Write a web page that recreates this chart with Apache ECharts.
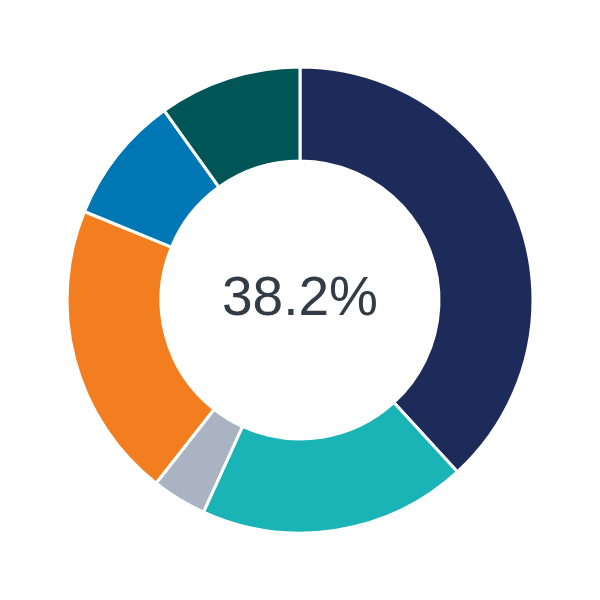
<!DOCTYPE html>
<html>
<head>
<meta charset="utf-8">
<script src="https://cdn.jsdelivr.net/npm/echarts@6/dist/echarts.min.js"></script>
<style>html,body{margin:0;padding:0;background:#fff}#c{width:600px;height:600px}</style>
</head>
<body>
<div id="c"></div>
<script>
const categories = ['A', 'B', 'C', 'D', 'E', 'F'];
const values = [38.2, 18.6, 3.8, 20.6, 8.9, 9.9];
const colors = ['#1c2b5a', '#1ab3b6', '#a9b3c1', '#f27e20', '#0077b5', '#005656'];
const centerLabel = '38.2%';

const chart = echarts.init(document.getElementById('c'));
chart.setOption({
  animation: false,
  title: {
    text: centerLabel,
    left: 'center',
    top: 'middle',
    textStyle: { fontFamily: 'Liberation Sans, Arial, sans-serif', fontSize: 55, fontWeight: 'normal', color: '#323c47' }
  },
  series: [{
    type: 'pie',
    center: ['50%', '50%'],
    radius: [139, 233],
    startAngle: 90,
    clockwise: true,
    label: { show: false },
    labelLine: { show: false },
    itemStyle: { borderColor: '#fff', borderWidth: 3 },
    data: categories.map((c, i) => ({ name: c, value: values[i], itemStyle: { color: colors[i] } }))
  }]
});
</script>
</body>
</html>
